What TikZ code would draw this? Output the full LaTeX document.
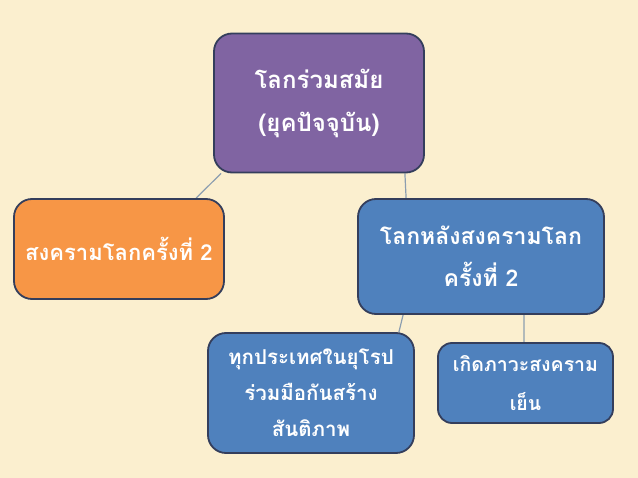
\documentclass[tikz,border=0pt]{standalone}
\usepackage{fontspec}
\newfontfamily\thaifont[Script=Thai]{Loma}
\usetikzlibrary{calc,backgrounds}
\definecolor{parchment}{RGB}{251,239,207}
\definecolor{boxpurple}{RGB}{128,100,162}
\definecolor{boxorange}{RGB}{247,150,70}
\definecolor{boxblue}{RGB}{79,129,189}
\definecolor{edgedark}{RGB}{52,62,92}
\definecolor{linkgray}{RGB}{140,158,176}

\begin{document}
\begin{tikzpicture}[x=1pt, y=-1pt,
		topic/.style={draw=edgedark, line width=1.8pt, rounded corners=18pt, text=white,
			font=\thaifont\bfseries\fontsize{23}{42}\selectfont, align=center, inner sep=0pt},
		link/.style={draw=linkgray, line width=1.2pt}]
		%%%%% START %%%%%
		
		\begin{scope}[on background layer]
			\fill[parchment] (0, 0) rectangle (638, 478);
		\end{scope}
		\useasboundingbox (0, 0) rectangle (638, 478);
		
		\node[topic, fill=boxpurple, minimum width=210pt, minimum height=139pt,
			font=\thaifont\bfseries\fontsize{24}{43}\selectfont] (now) at (319, 103) {โลกร่วมสมัย\\(ยุคปัจจุบัน)};
		\node[topic, fill=boxorange, minimum width=210pt, minimum height=100pt,
			font=\thaifont\bfseries\fontsize{22}{42}\selectfont] (war) at (119, 249) {สงครามโลกครั้งที่ 2};
		\node[topic, fill=boxblue, minimum width=246pt, minimum height=115pt] (after) at (481, 256.5) {โลกหลังสงครามโลก\\ครั้งที่ 2};
		
		\node[topic, fill=boxblue, minimum width=206pt, minimum height=120pt,
			font=\thaifont\bfseries\fontsize{20.5}{36}\selectfont] (peace) at (311, 393) {ทุกประเทศในยุโรป\\ร่วมมือกันสร้าง\\สันติภาพ};
		\node[topic, fill=boxblue, minimum width=175pt, minimum height=80pt, rounded corners=14pt,
			font=\thaifont\bfseries\fontsize{19.5}{39}\selectfont] (cold) at (525.5, 383) {เกิดภาวะสงคราม\\เย็น};
		
		% links sit behind the boxes
		\begin{scope}[on background layer]
			\draw[link] ([xshift=8]now.south west) -- ([xshift=183]war.north west);
			\draw[link] ([xshift=-20]now.south east) -- ([xshift=49]after.north west);
			\draw[link] ([xshift=46]after.south west) -- ([xshift=-16]peace.north east);
			\draw[link] ([xshift=-81]after.south east) -- ([xshift=-1.5]cold.north);
		\end{scope}
		
		%%%%% END %%%%%
	\end{tikzpicture}
\end{document}
